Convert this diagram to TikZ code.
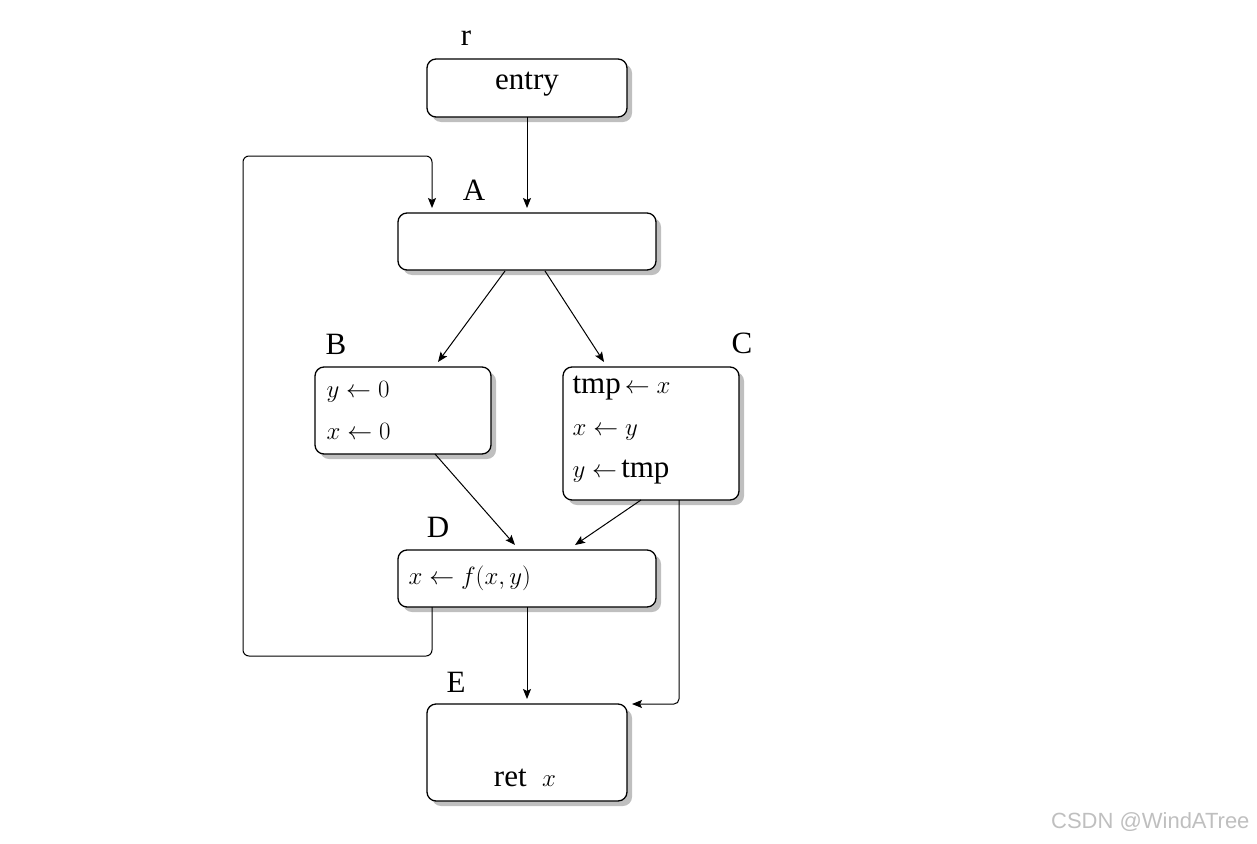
\documentclass[tikz,border=0pt]{standalone}
\usepackage{fontspec}
\setmainfont{Liberation Serif}
\usetikzlibrary{shadows,arrows.meta}
\begin{document}
\begin{tikzpicture}[x=1pt,y=-1pt,
  blk/.style={draw,line width=1.3pt,rounded corners=9pt,fill=white,drop shadow={shadow xshift=5pt,shadow yshift=-5pt,opacity=0.5}},
  lab/.style={font=\fontsize{31}{36}\selectfont},
  txt/.style={font=\fontsize{31}{42}\selectfont,align=left,anchor=west},
  arr/.style={-{Stealth[length=10pt,width=8pt,inset=2pt]},line width=1pt}]
\useasboundingbox (0,0) rectangle (1257,843);
\node[blk,minimum width=258pt,minimum height=57pt] (A) at (527,241.5) {};
\node[blk,minimum width=176pt,minimum height=87pt] (B) at (403,410.5) {};
\node[blk,minimum width=176pt,minimum height=133pt] (C) at (651,433.5) {};
\node[blk,minimum width=258pt,minimum height=57pt] (D) at (527,578.5) {};
\node[blk,minimum width=200pt,minimum height=97pt] (E) at (527,752.5) {};
\node[blk,minimum width=200pt,minimum height=58pt] (N) at (527,88) {};
\node[lab] (en) at (527,84) {entry};
\node[lab] (lr) at (466,38) {r};
\node[lab] (lA) at (474,190) {A};
\node[lab] (lB) at (336,344) {B};
\node[lab] (lC) at (742,343) {C};
\node[lab] (lD) at (438,527) {D};
\node[lab] (lE) at (456,682) {E};
\node[txt] (tB) at (323,410) {$y\leftarrow0$\\$x\leftarrow0$};
\node[txt] (tC) at (569,430) {tmp$\,\leftarrow x$\\$x\leftarrow y$\\$y\leftarrow\,$tmp};
\node[txt] (tD) at (405,578) {$x\leftarrow f(x,y)$};
\node[lab] (tE) at (525,778) {ret \ $x$};
\coordinate (n1) at (527,117); \coordinate (a0) at (527,208);
\draw[arr] (n1) -- (a0);
\coordinate (a1) at (505,271); \coordinate (b0) at (438,362);
\coordinate (a2) at (545,271); \coordinate (c0) at (604,362);
\draw[arr] (a1) -- (b0); \draw[arr] (a2) -- (c0);
\coordinate (b1) at (435,454); \coordinate (d0) at (515,545);
\coordinate (c1) at (641,500); \coordinate (d1) at (575,545);
\draw[arr] (b1) -- (d0); \draw[arr] (c1) -- (d1);
\coordinate (c2) at (679,500); \coordinate (e0) at (632,704);
\draw[arr,rounded corners=5pt] (c2) |- (e0);
\coordinate (d2) at (527,607); \coordinate (e1) at (527,699);
\draw[arr] (d2) -- (e1);
\coordinate (d3) at (432,607); \coordinate (a3) at (432,208);
\draw[arr,rounded corners=6pt] (d3) -- (432,656) -- (243,656) -- (243,156) -- (432,156) -- (a3);
\node[font=\fontsize{22}{26}\selectfont,text=black!25,anchor=east] (wm) at (1253,822) {\fontspec{Liberation Sans}CSDN @WindATree};
\end{tikzpicture}
\end{document}
